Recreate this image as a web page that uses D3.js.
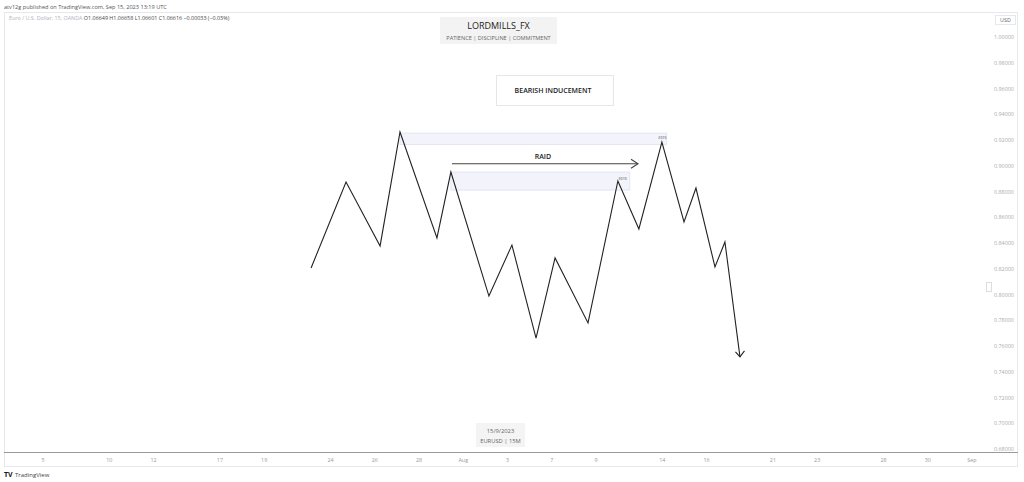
<!DOCTYPE html>
<html>
<head>
<meta charset="utf-8">
<script src="https://cdn.jsdelivr.net/npm/d3@7"></script>
<style>
  body { margin: 0; background: #fff; }
  svg { display: block; font-family: "Open Sans", "DejaVu Sans", sans-serif; }
</style>
</head>
<body>
<svg id="chart" width="1024" height="482"></svg>
<script>
// drawn path: x in trading-day index (0 = Jul 5), y in price
const pathDays = [12.12, 13.70, 15.24, 16.14, 17.81, 18.44, 20.16, 21.20, 22.29, 23.15,
                  24.64, 25.99, 26.94, 27.98, 28.98, 29.52, 30.38, 30.83, 31.51];
const pathPrices = [0.8206, 0.8874, 0.8377, 0.9262, 0.8439, 0.8951, 0.7988, 0.8384, 0.7662, 0.8284,
                    0.7779, 0.8882, 0.8509, 0.9184, 0.8563, 0.8827, 0.8214, 0.8408, 0.7515];

// time axis ticks (trading-day index -> label)
const tickDays = [0, 3, 5, 8, 10, 13, 15, 17, 19, 21, 23, 25, 28, 30, 33, 35, 38, 40, 42];
const tickLabels = ["5", "10", "12", "17", "19", "24", "26", "28", "Aug", "3", "7", "9", "14", "16", "21", "23", "28", "30", "Sep"];

// price axis
const priceTicks = d3.range(0.68, 1.0001, 0.02);

// zones: [x0 day, x1 day, top price, bottom price]
const zones = [
  [16.14, 28.20, 0.9254, 0.9165],
  [18.44, 26.53, 0.8951, 0.8811]
];
const zoneLabels = ["#015", "#015"];

const svg = d3.select("#chart");
const x = d3.scaleLinear().domain([0, 42]).range([43, 972]);
const y = d3.scaleLinear().domain([0.68, 1.0]).range([449, 37]);

// header
svg.append("text").attr("x", 4).attr("y", 9).attr("font-size", 5.6).attr("fill", "#555")
  .text("atv12g published on TradingView.com, Sep 15, 2023 13:19 UTC");

// frame
svg.append("rect").attr("x", 4.5).attr("y", 12.5).attr("width", 1013).attr("height", 454)
  .attr("fill", "none").attr("stroke", "#e6e8ee");

// legend
const leg = svg.append("text").attr("x", 9).attr("y", 20).attr("font-size", 5.4);
leg.append("tspan").attr("fill", "#b0b3bb").text("Euro / U.S. Dollar, 15, OANDA  ");
leg.append("tspan").attr("fill", "#444").text("O1.06649  H1.06658  L1.06601  C1.06616  \u22120.00033 (\u22120.03%)");

// price axis
svg.append("rect").attr("x", 995.5).attr("y", 15.5).attr("width", 20).attr("height", 9)
  .attr("fill", "#fff").attr("stroke", "#e6e8ee");
svg.append("text").attr("x", 1005.5).attr("y", 22).attr("text-anchor", "middle")
  .attr("font-size", 5.4).attr("fill", "#666").text("USD");
svg.append("g").selectAll("text").data(priceTicks).join("text")
  .attr("x", 1004).attr("y", d => y(d) + 2).attr("text-anchor", "middle")
  .attr("font-size", 5.4).attr("fill", "#aaa").text(d => d.toFixed(5));
svg.append("rect").attr("x", 986.5).attr("y", 282.5).attr("width", 5).attr("height", 9)
  .attr("fill", "#fff").attr("stroke", "#ddd");

// time axis
svg.append("line").attr("x1", 4).attr("x2", 1018).attr("y1", 452.5).attr("y2", 452.5)
  .attr("stroke", "#9a9a9a").attr("stroke-width", 1);
svg.append("g").selectAll("text").data(tickDays).join("text")
  .attr("x", d => x(d)).attr("y", 462).attr("text-anchor", "middle")
  .attr("font-size", 5.4).attr("fill", "#999").text((d, i) => tickLabels[i]);

// footer logo
svg.append("text").attr("x", 4).attr("y", 477).attr("font-size", 7).attr("font-weight", "bold")
  .attr("fill", "#131722").text("TV");
svg.append("text").attr("x", 15).attr("y", 477).attr("font-size", 6).attr("fill", "#444")
  .text("TradingView");

// title box
svg.append("rect").attr("x", 440).attr("y", 17).attr("width", 117).attr("height", 27).attr("fill", "#f3f3f3");
svg.append("text").attr("x", 498.5).attr("y", 29).attr("text-anchor", "middle")
  .attr("font-size", 9).attr("fill", "#222").text("LORDMILLS_FX");
svg.append("text").attr("x", 498.5).attr("y", 40).attr("text-anchor", "middle")
  .attr("font-size", 5.6).attr("fill", "#666").text("PATIENCE | DISCIPLINE | COMMITMENT");

// bearish inducement box
svg.append("rect").attr("x", 496.5).attr("y", 75.5).attr("width", 117).attr("height", 30)
  .attr("fill", "#fff").attr("stroke", "#e6e6e6");
svg.append("text").attr("x", 553).attr("y", 92.5).attr("text-anchor", "middle")
  .attr("font-size", 7).attr("font-weight", 600).attr("fill", "#222").text("BEARISH INDUCEMENT");

// zones
zones.forEach((z, i) => {
  svg.append("rect").attr("x", x(z[0])).attr("y", y(z[2]))
    .attr("width", x(z[1]) - x(z[0])).attr("height", y(z[3]) - y(z[2]))
    .attr("fill", "#f2f3fb").attr("stroke", "#e0e2ee").attr("stroke-width", 0.8);
});
svg.append("text").attr("x", x(28.0)).attr("y", y(0.9210)).attr("text-anchor", "middle")
  .attr("font-size", 3.6).attr("fill", "#333").text(zoneLabels[0]);
svg.append("text").attr("x", x(26.2)).attr("y", y(0.8890)).attr("text-anchor", "middle")
  .attr("font-size", 3.6).attr("fill", "#333").text(zoneLabels[1]);

// raid arrow
const raidY = y(0.9016);
svg.append("line").attr("x1", x(18.49)).attr("x2", x(26.9)).attr("y1", raidY).attr("y2", raidY)
  .attr("stroke", "#444").attr("stroke-width", 1.1);
svg.append("path")
  .attr("d", `M${x(26.9) - 7},${raidY - 4.5} L${x(26.9)},${raidY} L${x(26.9) - 7},${raidY + 4.5}`)
  .attr("fill", "none").attr("stroke", "#444").attr("stroke-width", 1.1);
svg.append("text").attr("x", x(22.6)).attr("y", raidY - 5).attr("text-anchor", "middle")
  .attr("font-size", 7).attr("font-weight", 600).attr("fill", "#222").text("RAID");

// price path
const pts = pathDays.map((d, i) => [x(d), y(pathPrices[i])]);
svg.append("path").attr("d", d3.line()(pts))
  .attr("fill", "none").attr("stroke", "#222").attr("stroke-width", 1.1).attr("stroke-linejoin", "miter");
const last = pts[pts.length - 1];
svg.append("path")
  .attr("d", `M${last[0] - 4.5},${last[1] - 5} L${last[0]},${last[1]} L${last[0] + 4.5},${last[1] - 6}`)
  .attr("fill", "none").attr("stroke", "#222").attr("stroke-width", 1.1);

// watermark box
svg.append("rect").attr("x", 476).attr("y", 423).attr("width", 49).attr("height", 24).attr("fill", "#f4f4f4");
svg.append("text").attr("x", 500.5).attr("y", 433).attr("text-anchor", "middle")
  .attr("font-size", 5.8).attr("fill", "#666").text("15/9/2023");
svg.append("text").attr("x", 500.5).attr("y", 443).attr("text-anchor", "middle")
  .attr("font-size", 5.8).attr("fill", "#666").text("EURUSD | 15M");
</script>
</body>
</html>
